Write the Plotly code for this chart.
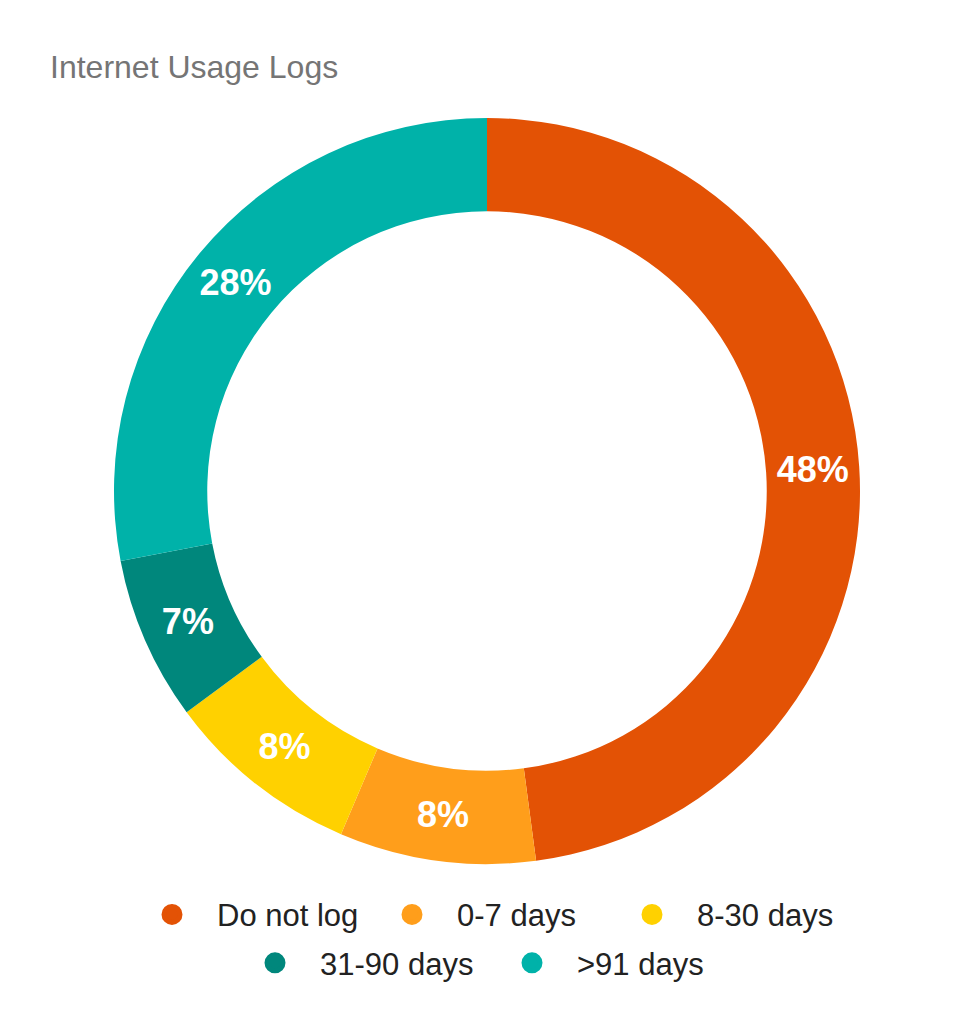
import plotly.graph_objects as go

categories = ["Do not log", "0-7 days", "8-30 days", "31-90 days", ">91 days"]
values = [47.9, 8.5, 8.5, 7.1, 28.0]
display_labels = ["48%", "8%", "8%", "7%", "28%"]
colors = ["#E35205", "#FF9E1B", "#FFD100", "#00877C", "#00B2A9"]
legend_rows = ["legend", "legend", "legend", "legend2", "legend2"]

W, H = 975, 1030
fig = go.Figure()

fig.add_trace(go.Pie(
    labels=categories,
    values=values,
    text=display_labels,
    textinfo="text",
    texttemplate="%{text}",
    textposition="inside",
    insidetextorientation="horizontal",
    textfont=dict(family="Liberation Sans, Arial, sans-serif", size=36, color="white", weight="bold"),
    marker=dict(colors=colors, line=dict(width=0)),
    hole=0.75,
    sort=False,
    direction="clockwise",
    rotation=0,
    showlegend=False,
    hoverinfo="label+percent",
))

# legend entries with circle markers
for cat, col, lg in zip(categories, colors, legend_rows):
    fig.add_trace(go.Scatter(
        x=[None], y=[None], mode="markers", name=cat,
        marker=dict(symbol="circle", size=16, color=col, line=dict(width=5, color=col)),
        legend=lg, showlegend=True, hoverinfo="skip",
    ))

legend_font = dict(family="Liberation Sans, Arial, sans-serif", size=31, color="#222222")

fig.update_layout(
    width=W, height=H,
    margin=dict(l=106, r=123, t=110, b=174),
    paper_bgcolor="white",
    plot_bgcolor="white",
    title=dict(
        text="Internet Usage Logs",
        font=dict(family="Liberation Sans, Arial, sans-serif", size=32, color="#757575"),
        x=42 / W, xanchor="left", xref="container",
        y=1 - 59 / H, yanchor="middle", yref="container",
    ),
    xaxis=dict(visible=False),
    yaxis=dict(visible=False),
    legend=dict(
        orientation="h", x=0.5, xanchor="center", y=-0.068, yanchor="middle",
        font=legend_font, bgcolor="rgba(0,0,0,0)", itemclick=False,
        itemwidth=80, entrywidth=145,
    ),
    legend2=dict(
        orientation="h", x=0.5, xanchor="center", y=-0.133, yanchor="middle",
        font=legend_font, bgcolor="rgba(0,0,0,0)", itemclick=False,
        itemwidth=80, entrywidth=162,
    ),
)

fig.write_html("out.html")
